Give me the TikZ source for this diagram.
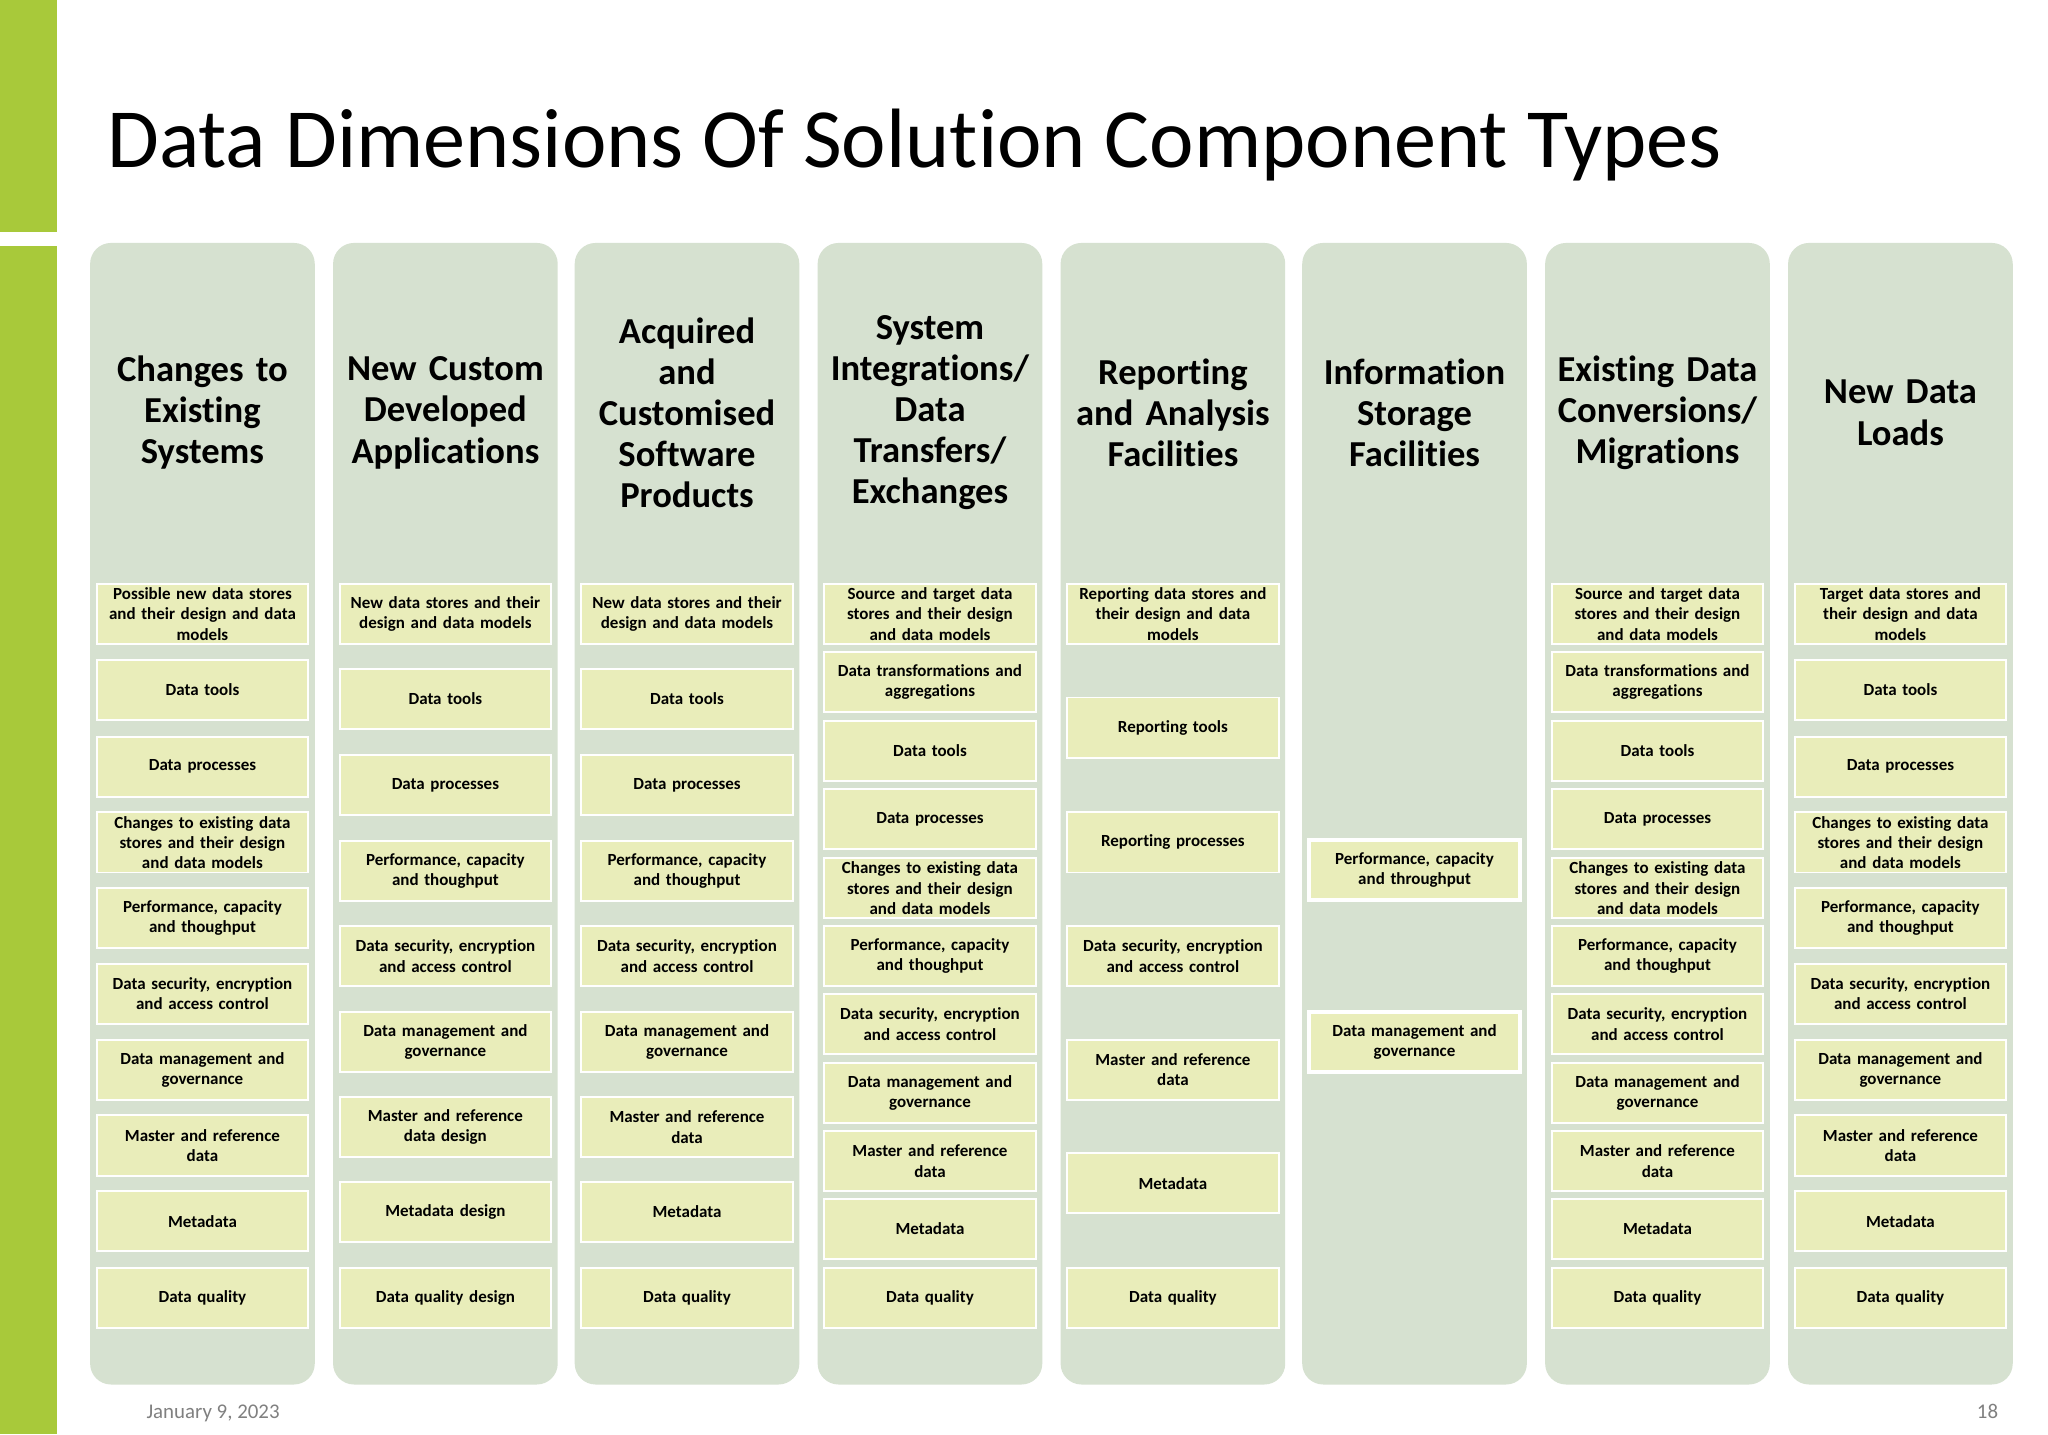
\documentclass[tikz,border=0pt]{standalone}
\usepackage{fontspec}
\setmainfont{Carlito}[Ligatures={NoCommon}]
\begin{document}
\lefthyphenmin=64 \hyphenpenalty=10000
\begin{tikzpicture}[x=1pt,y=-1pt,
 col/.style={fill=colf,rounded corners=16pt,draw=none},
 bx/.style={fill=boxf,draw=white,line width=1.5pt,minimum width=157pt,minimum height=46pt,text width=162pt,align=center,font=\bfseries\fontsize{13}{15.5}\selectfont,inner sep=0pt},
 bxw/.style={bx,line width=3pt},
 hd/.style={font=\bfseries\fontsize{28}{31.5}\selectfont,align=center,text width=170pt}]
\definecolor{colf}{HTML}{D6E1D0}
\definecolor{boxf}{HTML}{E9EDBA}
\definecolor{barg}{HTML}{A8C93A}
\useasboundingbox (0,0) rectangle (1568,1098);
\fill[white] (0,0) rectangle (1568,1098);
\fill[barg] (0,0) rectangle (44,178);
\fill[barg] (0,188) rectangle (44,1098);
\node[anchor=base west,font=\fontsize{64.5}{70}\selectfont,inner sep=0] (title) at (82,128) {Data Dimensions Of Solution Component Types};
\node[anchor=base west,font=\fontsize{16}{18}\selectfont,text=gray,inner sep=0] (date) at (112,1086) {January 9, 2023};
\node[anchor=base east,font=\fontsize{16}{18}\selectfont,text=gray,inner sep=0] (pg) at (1530,1086) {18};
\foreach \i/\x in {1/69,2/255,3/440,4/626,5/812,6/997,7/1183,8/1369}
  \fill[col] (\x,186) rectangle ++(172,874);
\foreach \i/\cx/\t in {1/155/{Changes to\\Existing\\Systems},2/341/{New Custom\\Developed\\Applications},3/526/{Acquired\\and\\Customised\\Software\\Products},4/712/{System\\Integrations/\\Data\\Transfers/\\Exchanges},5/898/{Reporting\\and Analysis\\Facilities},6/1083/{Information\\Storage\\Facilities},7/1269/{Existing Data\\Conversions/\\Migrations},8/1455/{New Data\\Loads}}
  \node[hd] (h\i) at (\cx,316) {\t};
% column 1
\foreach \j/\y/\t in {1/470/{Possible new data stores\\and their design and data\\models},2/528/{Data tools},3/587/{Data processes},4/645/{Changes to existing data\\stores and their design\\and data models},5/703/{Performance, capacity\\and thoughput},6/761/{Data security, encryption\\and access control},7/819/{Data management and\\governance},8/877/{Master and reference\\data},9/935/{Metadata},10/994/{Data quality}}
  \node[bx] (a\j) at (155,\y) {\t};
% column 2
\foreach \j/\y/\t in {1/470/{New data stores and their\\design and data models},2/535/{Data tools},3/601/{Data processes},4/667/{Performance, capacity\\and thoughput},5/732/{Data security, encryption\\and access control},6/798/{Data management and\\governance},7/863/{Master and reference\\data design},8/928/{Metadata design},9/994/{Data quality design}}
  \node[bx] (b\j) at (341,\y) {\t};
% column 3
\foreach \j/\y/\t in {1/470/{New data stores and their\\design and data models},2/535/{Data tools},3/601/{Data processes},4/667/{Performance, capacity\\and thoughput},5/732/{Data security, encryption\\and access control},6/798/{Data management and\\governance},7/863/{Master and reference\\data},8/928/{Metadata},9/994/{Data quality}}
  \node[bx] (c\j) at (526,\y) {\t};
% column 4
\foreach \j/\y/\t in {1/470/{Source and target data\\stores and their design\\and data models},2/522/{Data transformations and\\aggregations},3/575/{Data tools},4/627/{Data processes},5/680/{Changes to existing data\\stores and their design\\and data models},6/732/{Performance, capacity\\and thoughput},7/784/{Data security, encryption\\and access control},8/837/{Data management and\\governance},9/889/{Master and reference\\data},10/941/{Metadata},11/994/{Data quality}}
  \node[bx] (d\j) at (712,\y) {\t};
% column 5
\foreach \j/\y/\t in {1/470/{Reporting data stores and\\their design and data\\models},2/557/{Reporting tools},3/645/{Reporting processes},4/732/{Data security, encryption\\and access control},5/819/{Master and reference\\data},6/906/{Metadata},7/994/{Data quality}}
  \node[bx] (e\j) at (898,\y) {\t};
% column 6
\node[bxw] (f1) at (1083,666) {Performance, capacity\\and throughput};
\node[bxw] (f2) at (1083,798) {Data management and\\governance};
% column 7
\foreach \j/\y/\t in {1/470/{Source and target data\\stores and their design\\and data models},2/522/{Data transformations and\\aggregations},3/575/{Data tools},4/627/{Data processes},5/680/{Changes to existing data\\stores and their design\\and data models},6/732/{Performance, capacity\\and thoughput},7/784/{Data security, encryption\\and access control},8/837/{Data management and\\governance},9/889/{Master and reference\\data},10/941/{Metadata},11/994/{Data quality}}
  \node[bx] (g\j) at (1269,\y) {\t};
% column 8
\foreach \j/\y/\t in {1/470/{Target data stores and\\their design and data\\models},2/528/{Data tools},3/587/{Data processes},4/645/{Changes to existing data\\stores and their design\\and data models},5/703/{Performance, capacity\\and thoughput},6/761/{Data security, encryption\\and access control},7/819/{Data management and\\governance},8/877/{Master and reference\\data},9/935/{Metadata},10/994/{Data quality}}
  \node[bx] (k\j) at (1455,\y) {\t};
\end{tikzpicture}
\end{document}
